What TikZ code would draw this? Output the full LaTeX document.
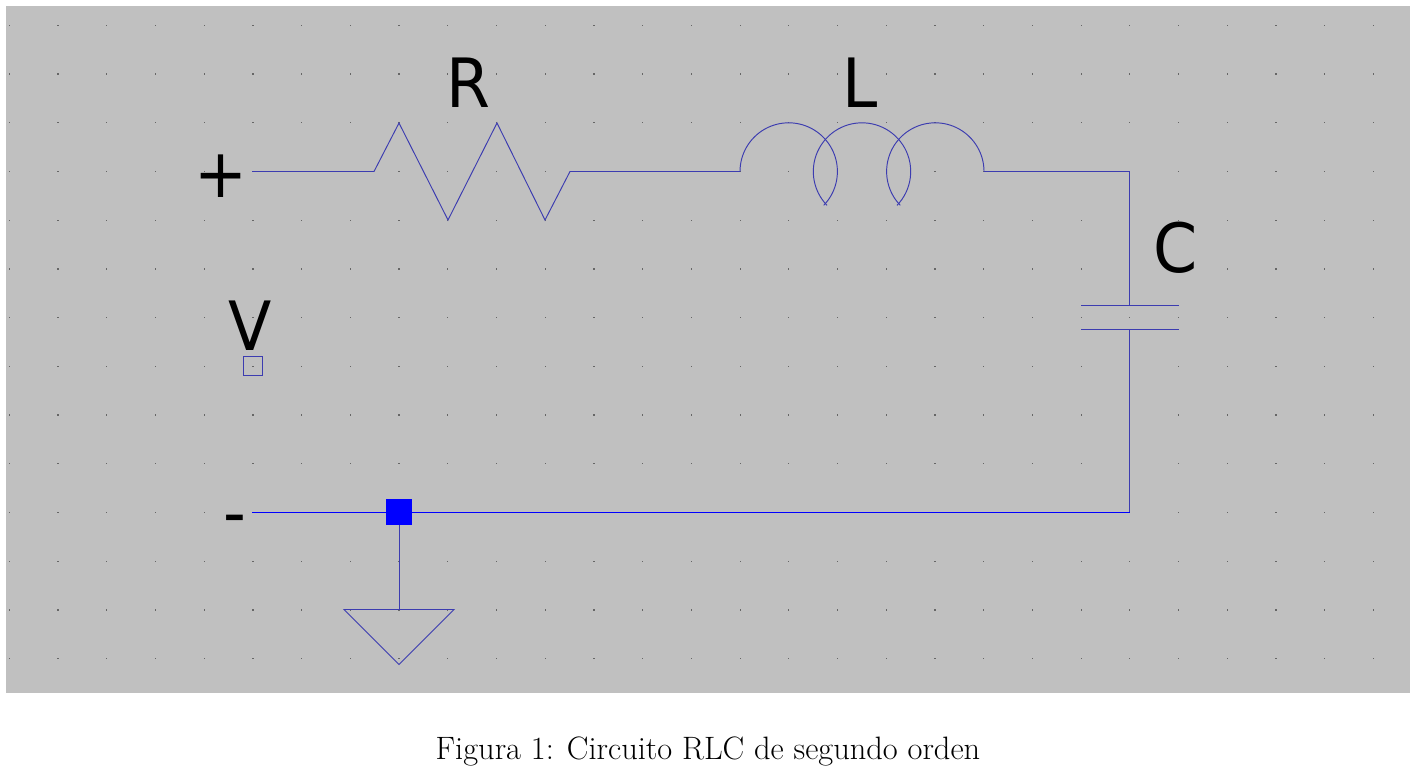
\documentclass[tikz,border=0pt]{standalone}
\usepackage{fontspec}
\newfontfamily\labelfont{DejaVu Sans}
\definecolor{panel}{HTML}{C0C0C0}
\definecolor{wire}{HTML}{3C3CB0}
\definecolor{busblue}{HTML}{0000FF}
\definecolor{griddot}{HTML}{666666}
\tikzset{
  wireline/.style={draw=wire,line width=0.95pt,line join=miter},
  busline/.style={draw=busblue,line width=1pt},
  partlabel/.style={inner sep=0pt,anchor=base,xscale=0.93,font=\labelfont\fontsize{68}{70}\selectfont,text=black},
  junction/.style={draw=none,fill=busblue,minimum size=26pt,inner sep=0pt,rectangle},
  portbox/.style={draw=wire,line width=0.95pt,minimum size=19pt,inner sep=0pt,rectangle}
}
\begin{document}
\begin{tikzpicture}[x=1pt,y=-1pt]
\useasboundingbox (0,0) rectangle (1418,780);
\fill[white] (0,0) rectangle (1418,780);
\fill[panel] (6,6) rectangle (1410,693);
% grid dots
\foreach \i in {0,...,28}{
  \foreach \j in {0,...,13}{
    \fill[griddot] ({9.3+\i*48.72-0.6},{25.3+\j*48.72-0.6}) rectangle ++(1.2,1.2);
  }
}
% terminals and corners
\coordinate (plus) at (252,171.5);
\coordinate (minus) at (252,512.5);
\coordinate (rin) at (374,171.5);
\coordinate (rout) at (570,171.5);
\coordinate (lin) at (740,171.5);
\coordinate (lout) at (984,171.5);
\coordinate (corner) at (1129.5,171.5);
\coordinate (captop) at (1129.5,305);
\coordinate (capbot) at (1129.5,329);
\coordinate (cornerb) at (1129.5,512.5);
\coordinate (gndtop) at (399.5,609.5);
% resistor
\draw[wireline] (plus) -- (rin) -- (399,123) -- (448,220) -- (497,123) -- (545,220) -- (rout) -- (lin);
% inductor
\draw[wireline,smooth,samples=60] plot[domain=180:-44] ({788.7+48.7*cos(\x)},{171.5-48.7*sin(\x)});
\draw[wireline,smooth,samples=60] plot[domain=224:-44] ({862+48.7*cos(\x)},{171.5-48.7*sin(\x)});
\draw[wireline,smooth,samples=60] plot[domain=224:0] ({935.3+48.7*cos(\x)},{171.5-48.7*sin(\x)});
\draw[wireline] (lout) -- (corner) -- (captop);
% capacitor
\draw[wireline] (1081,305.5) -- (1179,305.5);
\draw[wireline] (1081,329.5) -- (1179,329.5);
\draw[wireline] (capbot) -- (cornerb);
% bus
\draw[busline] (minus) -- (cornerb);
\node[junction] (junc) at (399,512) {};
\draw[wireline] (junc.south -| gndtop) -- (gndtop);
\draw[wireline] (344,609.5) -- (454,609.5) -- (399,664.5) -- cycle;
\node[portbox] (port) at (253,366) {};
% labels
\node[partlabel] (lblR) at (468,107) {R};
\node[partlabel] (lblL) at (860,107) {L};
\node[partlabel] (lblC) at (1176,272) {C};
\node[partlabel] (lblV) at (250.5,350.5) {V};
\node[partlabel] (lblPlus) at (221,197) {+};
\node[partlabel] (lblMinus) at (234.5,536) {-};
\node[inner sep=0pt,anchor=base,font=\fontsize{32.4}{34}\selectfont] (caption) at (708,759) {Figura 1: Circuito RLC de segundo orden};
\end{tikzpicture}
\end{document}
